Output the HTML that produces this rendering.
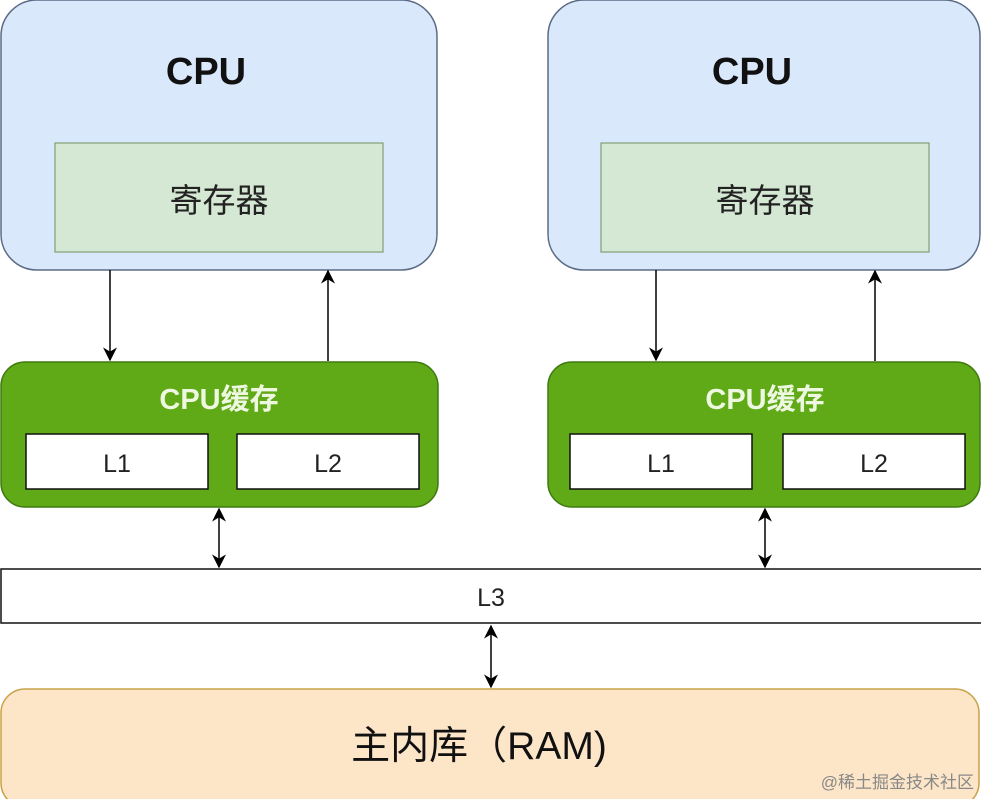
<!DOCTYPE html>
<html><head><meta charset="utf-8"><style>
html,body{margin:0;padding:0;background:#fff;width:981px;height:799px;overflow:hidden}
text{font-family:"Liberation Sans","Noto Sans CJK SC",sans-serif}
</style></head><body>
<svg width="981" height="799" viewBox="0 0 981 799" xmlns="http://www.w3.org/2000/svg">
<defs>
<marker id="a" viewBox="0 0 10 10" refX="9" refY="5" markerWidth="14" markerHeight="14" markerUnits="userSpaceOnUse" orient="auto-start-reverse"><path d="M0,0 L10,5 L0,10 L3,5 z" fill="#000"/></marker>
</defs>
<rect x="1" y="0" width="436" height="270" rx="36" fill="#dae8fc" stroke="#5b6b85" stroke-width="1.5"/>
<rect x="548" y="0" width="432" height="270" rx="36" fill="#dae8fc" stroke="#5b6b85" stroke-width="1.5"/>
<text x="206" y="84" font-size="38" font-weight="bold" text-anchor="middle" fill="#111">CPU</text>
<text x="752" y="84" font-size="38" font-weight="bold" text-anchor="middle" fill="#111">CPU</text>
<rect x="55" y="143" width="328" height="109" fill="#d5e8d4" stroke="#82a075" stroke-width="1.2"/>
<rect x="601" y="143" width="328" height="109" fill="#d5e8d4" stroke="#82a075" stroke-width="1.2"/>
<text x="219" y="212" font-size="33" text-anchor="middle" fill="#222">寄存器</text>
<text x="765" y="212" font-size="33" text-anchor="middle" fill="#222">寄存器</text>
<line x1="110" y1="270" x2="110" y2="360" stroke="#000" stroke-width="1.5" marker-end="url(#a)"/>
<line x1="328" y1="361" x2="328" y2="271" stroke="#000" stroke-width="1.5" marker-end="url(#a)"/>
<line x1="656" y1="270" x2="656" y2="360" stroke="#000" stroke-width="1.5" marker-end="url(#a)"/>
<line x1="875" y1="361" x2="875" y2="271" stroke="#000" stroke-width="1.5" marker-end="url(#a)"/>
<rect x="1" y="362" width="437" height="145" rx="24" fill="#60a917" stroke="#3f7a10" stroke-width="1.5"/>
<rect x="548" y="362" width="432" height="145" rx="24" fill="#60a917" stroke="#3f7a10" stroke-width="1.5"/>
<text x="219" y="409" font-size="29" font-weight="bold" text-anchor="middle" fill="#eef8e0">CPU缓存</text>
<text x="765" y="409" font-size="29" font-weight="bold" text-anchor="middle" fill="#eef8e0">CPU缓存</text>
<rect x="26" y="434" width="182" height="55" fill="#fff" stroke="#111" stroke-width="1.5"/>
<rect x="237" y="434" width="182" height="55" fill="#fff" stroke="#111" stroke-width="1.5"/>
<rect x="570" y="434" width="182" height="55" fill="#fff" stroke="#111" stroke-width="1.5"/>
<rect x="783" y="434" width="182" height="55" fill="#fff" stroke="#111" stroke-width="1.5"/>
<text x="117" y="472" font-size="25" text-anchor="middle" fill="#222">L1</text>
<text x="328" y="472" font-size="25" text-anchor="middle" fill="#222">L2</text>
<text x="661" y="472" font-size="25" text-anchor="middle" fill="#222">L1</text>
<text x="874" y="472" font-size="25" text-anchor="middle" fill="#222">L2</text>
<line x1="219" y1="509" x2="219" y2="567" stroke="#000" stroke-width="1.5" marker-start="url(#a)" marker-end="url(#a)"/>
<line x1="765" y1="509" x2="765" y2="567" stroke="#000" stroke-width="1.5" marker-start="url(#a)" marker-end="url(#a)"/>
<rect x="1" y="569" width="985" height="54" fill="#fff" stroke="#111" stroke-width="1.5"/>
<text x="491" y="606" font-size="25" text-anchor="middle" fill="#222">L3</text>
<line x1="491" y1="626" x2="491" y2="687" stroke="#000" stroke-width="1.5" marker-start="url(#a)" marker-end="url(#a)"/>
<rect x="1" y="689" width="978" height="118" rx="24" fill="#fde6c8" stroke="#c9a24a" stroke-width="1.5"/>
<text x="479" y="759" font-size="39" text-anchor="middle" fill="#111">主内库（RAM)</text>
<text x="974" y="788" font-size="17" text-anchor="end" fill="#888">@稀土掘金技术社区</text>
</svg>
</body></html>
